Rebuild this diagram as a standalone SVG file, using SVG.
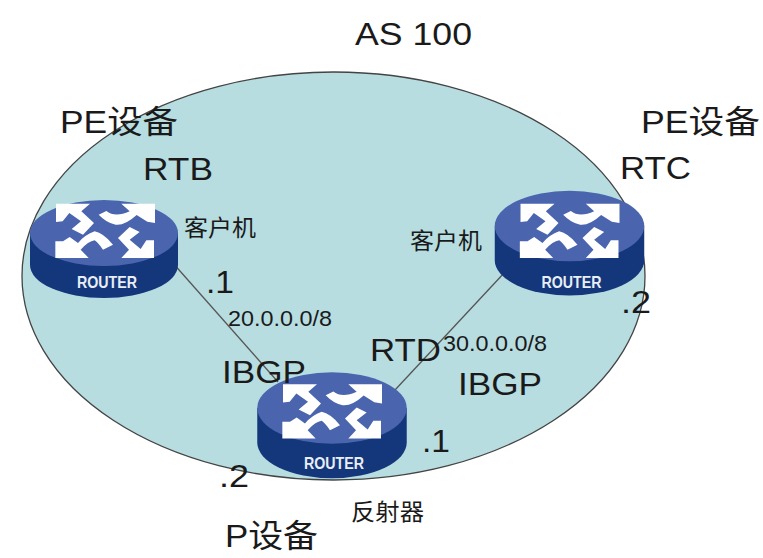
<svg xmlns="http://www.w3.org/2000/svg" width="763" height="558" viewBox="0 0 763 558">
<style>
text{font-family:"Liberation Sans","Noto Sans CJK SC",sans-serif;fill:#1a1a1a}
.l{font-size:32px}.s{font-size:22px}.c{font-size:23px;font-family:"Noto Sans CJK SC",sans-serif}
.link{stroke:#555;stroke-width:1.3;fill:none}
</style>
<defs>
<g id="body">
<path d="M-74 0V32A74 33 0 0 0 74 32V0Z" fill="#13377a"/>
<ellipse cx="0" cy="0" rx="74" ry="33" fill="#4a65ae"/>
</g>
<g id="icon">
<g fill="#fff" transform="scale(.3333) translate(-252 -130)">
<path d="M108 42H210L184 65L222 100L189 135L155 118L183 95L148 70L128 95L108 97Z"/>
<path d="M405 42V100L382 96L350 76Q315 108 287 105Q260 100 236 75L259 64Q285 85 329 65L304 42Z"/>
<path d="M106 205H206L182 180Q205 155 224 152Q235 160 249 180L279 165Q250 130 224 125Q195 135 174 160L149 142L129 155H106Z"/>
<path d="M402 205H304L327 180L294 145L329 112L359 127L329 150L362 178L379 152H402Z"/>
</g>
<text x="3" y="55" text-anchor="middle" textLength="60" lengthAdjust="spacingAndGlyphs" style="fill:#e9eef6;font-size:16.500px;font-weight:bold;font-family:'Liberation Sans',sans-serif">ROUTER</text>
</g>
</defs>
<ellipse id="as100" cx="333.500" cy="276" rx="311.500" ry="204" fill="#b7dde1" stroke="#444" stroke-width="1.300"/>
<g id="connectors">
<line class="link" x1="172" y1="262" x2="278" y2="382"/>
<line class="link" x1="395" y1="390" x2="505" y2="272"/>
</g>
<g id="RTB"><use href="#body" transform="translate(104 233)"/><use href="#icon" transform="translate(104 233)"/></g>
<g id="RTC"><use href="#body" transform="translate(569.500 226) scale(1.01 1.07)"/><use href="#icon" transform="translate(568.500 233)"/></g>
<g id="RTD"><use href="#body" transform="translate(332 408) scale(1.01 1.08)"/><use href="#icon" transform="translate(331 413.500)"/></g>
<g id="labels">
<text class="l" x="355" y="45" textLength="117" lengthAdjust="spacingAndGlyphs">AS 100</text>
<text class="l" x="60" y="133" textLength="118" lengthAdjust="spacingAndGlyphs">PE设备</text>
<text class="l" x="641" y="133" textLength="119" lengthAdjust="spacingAndGlyphs">PE设备</text>
<text class="l" x="143" y="180" textLength="70" lengthAdjust="spacingAndGlyphs">RTB</text>
<text class="l" x="620" y="179" textLength="71" lengthAdjust="spacingAndGlyphs">RTC</text>
<text class="l" x="370" y="361" textLength="71" lengthAdjust="spacingAndGlyphs">RTD</text>
<text class="l" x="222" y="383" textLength="84" lengthAdjust="spacingAndGlyphs">IBGP</text>
<text class="l" x="458" y="395" textLength="84" lengthAdjust="spacingAndGlyphs">IBGP</text>
<text class="l" x="206" y="293" textLength="28" lengthAdjust="spacingAndGlyphs">.1</text>
<text class="l" x="621" y="313" textLength="30" lengthAdjust="spacingAndGlyphs">.2</text>
<text class="l" x="422" y="452" textLength="28" lengthAdjust="spacingAndGlyphs">.1</text>
<text class="l" x="219" y="487" textLength="30" lengthAdjust="spacingAndGlyphs">.2</text>
<text class="l" x="225" y="547" textLength="93" lengthAdjust="spacingAndGlyphs">P设备</text>
<text class="s" x="228" y="326" textLength="104" lengthAdjust="spacingAndGlyphs">20.0.0.0/8</text>
<text class="s" x="443" y="351" textLength="104" lengthAdjust="spacingAndGlyphs">30.0.0.0/8</text>
<text class="c" x="184" y="236" textLength="72" lengthAdjust="spacingAndGlyphs">客户机</text>
<text class="c" x="410" y="249" textLength="72" lengthAdjust="spacingAndGlyphs">客户机</text>
<text class="c" x="351" y="520" textLength="73" lengthAdjust="spacingAndGlyphs">反射器</text>
</g>
</svg>
